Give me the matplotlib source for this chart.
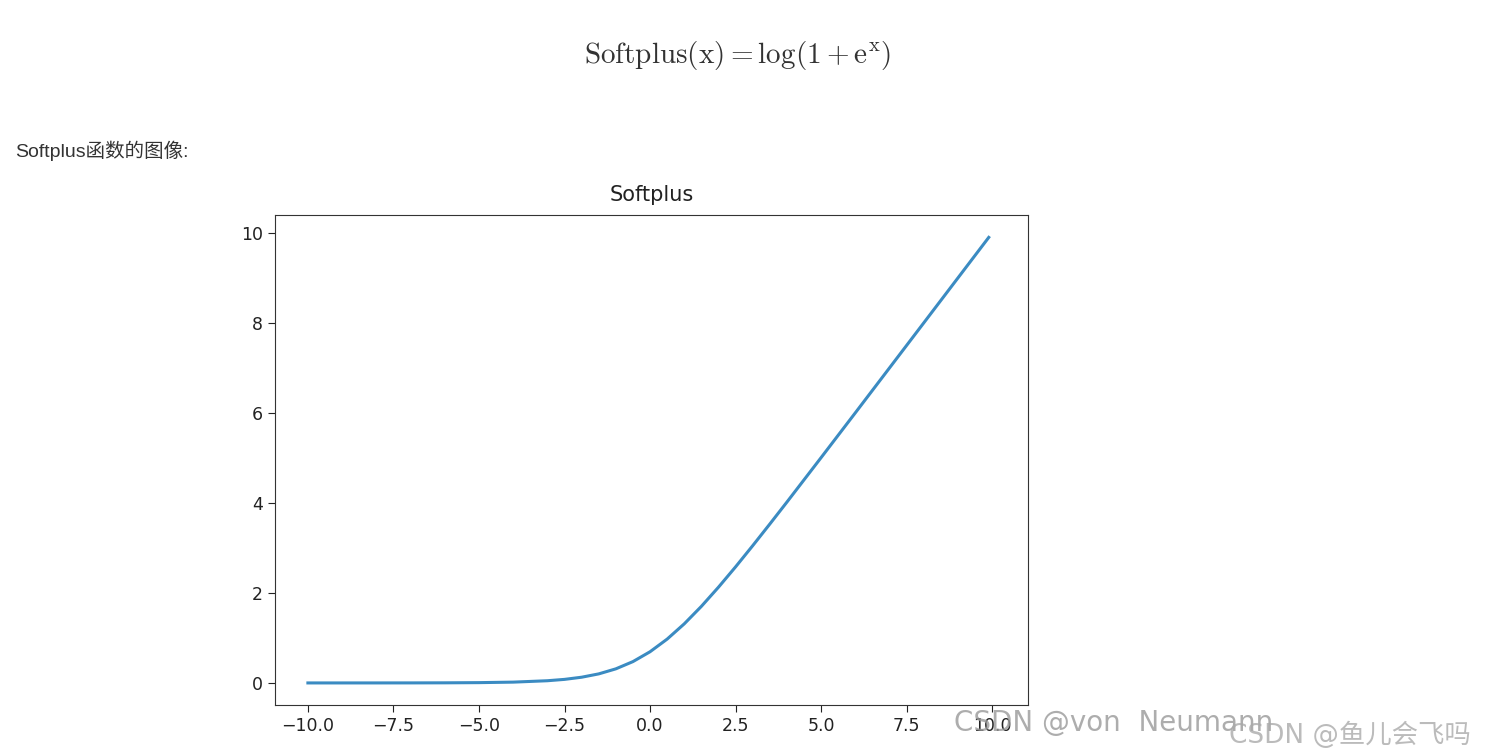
import matplotlib
matplotlib.use("Agg")
import matplotlib.pyplot as plt

plt.rcParams['font.family'] = ['DejaVu Sans', 'Noto Sans CJK SC']

# points
x_vals = [-10.0, -9.0, -8.0, -7.0, -6.0, -5.0, -4.0, -3.0, -2.5, -2.0, -1.5, -1.0, -0.5,
          0.0, 0.5, 1.0, 1.5, 2.0, 2.5, 3.0, 3.5, 4.0, 5.0, 6.0, 7.0, 8.0, 9.0, 9.9]
y_vals = [0.00005, 0.0001, 0.0003, 0.0009, 0.0025, 0.0067, 0.018, 0.049, 0.079, 0.127,
          0.201, 0.313, 0.474, 0.693, 0.974, 1.313, 1.701, 2.127, 2.579, 3.049, 3.530,
          4.018, 5.007, 6.002, 7.001, 8.000, 9.000, 9.900]
x_ticks = [-10.0, -7.5, -5.0, -2.5, 0.0, 2.5, 5.0, 7.5, 10.0]
y_ticks = [0, 2, 4, 6, 8, 10]

fig = plt.figure(figsize=(14.9, 7.54), dpi=100)
fig.text(0.495, 0.927, r'$\mathrm{Softplus(x)} = \log(1+\mathrm{e}^{\mathrm{x}})$',
         ha='center', va='center', fontsize=21, color='#333333',
         math_fontfamily='cm')
fig.text(0.01, 0.80, 'Softplus函数的图像:', ha='left', va='center', fontsize=14,
         color='#333333', family=['Liberation Sans', 'Noto Sans CJK SC'])

ax = fig.add_axes([0.1846, 0.065, 0.5054, 0.65])
ax.plot(x_vals, y_vals, color='#3b8bc2', lw=2.2)
ax.set_xlim(-10.96, 11.05)
ax.set_ylim(-0.49, 10.4)
ax.set_xticks(x_ticks)
ax.set_yticks(y_ticks)
ax.tick_params(labelsize=12.5, colors='#222222', length=5)
for s in ax.spines.values():
    s.set_color('#333333')
ax.set_title('Softplus', fontsize=15, color='#222222', pad=10)

fig.text(0.64, 0.03, 'CSDN @von  Neumann', fontsize=20, color='#999999', alpha=0.8)
fig.text(0.825, 0.015, 'CSDN @鱼儿会飞吗', fontsize=19, color='#aaaaaa', alpha=0.8,
         family=['DejaVu Sans', 'Noto Sans CJK SC'])

fig.savefig('out.png', dpi=100, facecolor='white')
